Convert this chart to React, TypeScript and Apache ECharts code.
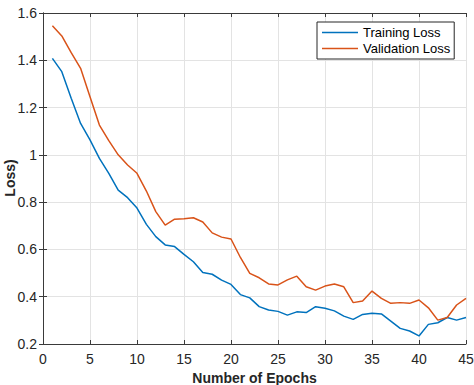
import React, { useEffect, useRef } from "react";
import * as echarts from "echarts";

const epochs: number[] = Array.from({ length: 45 }, (_, i) => i + 1);

const trainingLoss: number[] = [
  1.408, 1.352, 1.239, 1.133, 1.063, 0.985, 0.922, 0.851, 0.819, 0.775,
  0.706, 0.654, 0.619, 0.612, 0.579, 0.548, 0.502, 0.495, 0.47, 0.452,
  0.409, 0.395, 0.358, 0.344, 0.338, 0.322, 0.336, 0.333, 0.358, 0.351,
  0.34, 0.318, 0.304, 0.325, 0.33, 0.327, 0.297, 0.266, 0.255, 0.234,
  0.283, 0.29, 0.312, 0.301, 0.312,
];

const validationLoss: number[] = [
  1.546, 1.503, 1.432, 1.366, 1.246, 1.126, 1.06, 1.0, 0.957, 0.922,
  0.847, 0.76, 0.703, 0.728, 0.73, 0.734, 0.716, 0.67, 0.652, 0.644,
  0.566, 0.499, 0.48, 0.454, 0.45, 0.471, 0.487, 0.442, 0.428, 0.445,
  0.454, 0.442, 0.375, 0.382, 0.424, 0.393, 0.372, 0.375, 0.372, 0.386,
  0.353, 0.301, 0.312, 0.365, 0.393,
];

const seriesNames: string[] = ["Training Loss", "Validation Loss"];
const xTitle = "Number of Epochs";
const yTitle = "Loss)";

const AXIS_COLOR = "#3a3a3a";
const TEXT_COLOR = "#262626";
const FONT = "Arial, 'Liberation Sans', Helvetica, sans-serif";

export default function App() {
  const ref = useRef<HTMLDivElement>(null);

  useEffect(() => {
    if (!ref.current) return;
    const chart = echarts.init(ref.current, undefined, { renderer: "svg" });

    const xCommon = {
      type: "value" as const,
      min: 0,
      max: 45,
      interval: 5,
      axisLine: { show: true, lineStyle: { color: AXIS_COLOR, width: 1 } },
      axisTick: { show: true, inside: true, length: 4, lineStyle: { color: AXIS_COLOR } },
    };
    const yCommon = {
      type: "value" as const,
      min: 0.2,
      max: 1.6,
      interval: 0.2,
      axisLine: { show: true, lineStyle: { color: AXIS_COLOR, width: 1 } },
      axisTick: { show: true, inside: true, length: 4, lineStyle: { color: AXIS_COLOR } },
    };

    chart.setOption({
      animation: false,
      backgroundColor: "#ffffff",
      textStyle: { fontFamily: FONT },
      grid: { left: 43, right: 8, top: 13, bottom: 41, containLabel: false, outerBoundsMode: "none" },
      graphic: [
        {
          type: "text",
          x: 10,
          y: 178,
          rotation: Math.PI / 2,
          style: {
            text: yTitle,
            fill: TEXT_COLOR,
            font: `bold 14px ${FONT}`,
            align: "center",
            verticalAlign: "middle",
          },
        },
      ],
      legend: {
        orient: "vertical",
        left: 317,
        top: 22,
        padding: [3, 4, 3, 5],
        itemGap: 1,
        itemWidth: 36,
        itemHeight: 1.5,
        icon: "rect",
        backgroundColor: "#ffffff",
        borderColor: "#262626",
        borderWidth: 1,
        borderRadius: 0,
        textStyle: { fontSize: 13, color: "#000000", fontFamily: FONT, lineHeight: 15 },
        data: seriesNames,
      },
      xAxis: [
        {
          ...xCommon,
          position: "bottom",
          name: xTitle,
          nameLocation: "middle",
          nameGap: 25,
          nameTextStyle: { fontSize: 14, fontWeight: "bold", color: TEXT_COLOR, fontFamily: FONT },
          axisLabel: { show: true, fontSize: 14, color: TEXT_COLOR, margin: 8, fontFamily: FONT },
          splitLine: { show: true, lineStyle: { color: "#e3e3e3", width: 1 } },
        },
        {
          ...xCommon,
          position: "top",
          axisLabel: { show: false },
          splitLine: { show: false },
        },
      ],
      yAxis: [
        {
          ...yCommon,
          position: "left",
          axisLabel: { show: true, fontSize: 14, color: TEXT_COLOR, margin: 6, fontFamily: FONT },
          splitLine: { show: true, lineStyle: { color: "#e3e3e3", width: 1 } },
        },
        {
          ...yCommon,
          position: "right",
          axisLabel: { show: false },
          splitLine: { show: false },
        },
      ],
      series: [
        {
          name: seriesNames[0],
          type: "line",
          symbol: "none",
          data: epochs.map((e, i) => [e, trainingLoss[i]]),
          lineStyle: { color: "#0072BD", width: 1.5 },
          itemStyle: { color: "#0072BD" },
        },
        {
          name: seriesNames[1],
          type: "line",
          symbol: "none",
          data: epochs.map((e, i) => [e, validationLoss[i]]),
          lineStyle: { color: "#D95319", width: 1.5 },
          itemStyle: { color: "#D95319" },
        },
      ],
    });

    return () => chart.dispose();
  }, []);

  return <div ref={ref} style={{ width: 474, height: 385, position: "fixed", left: 0, top: 0 }} />;
}
